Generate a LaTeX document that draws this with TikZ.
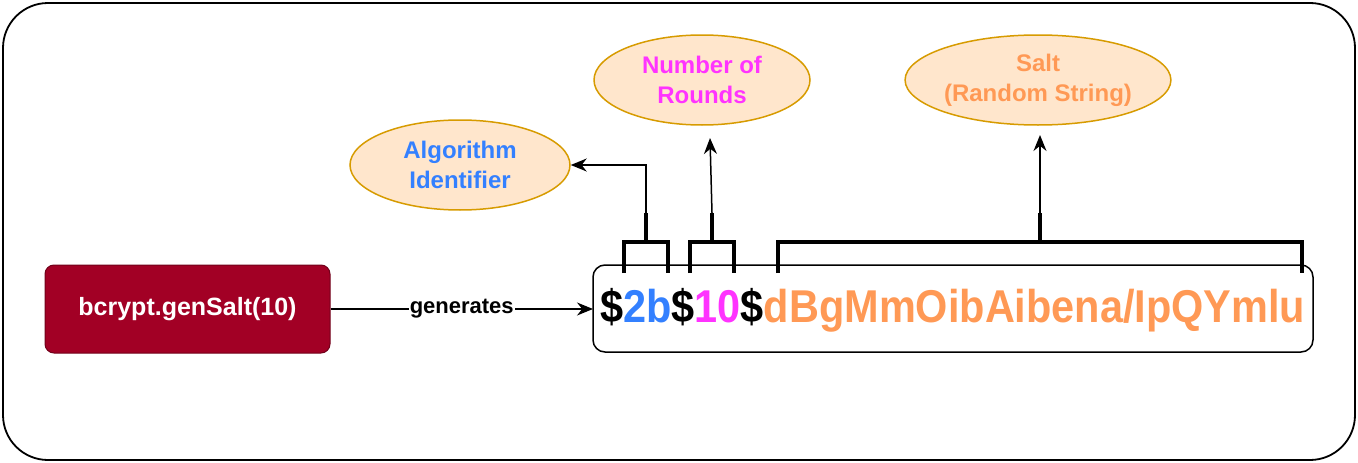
\documentclass[tikz,border=0pt]{standalone}
\usepackage{fontspec}
\setmainfont{Liberation Sans}
\usetikzlibrary{arrows.meta,shapes.geometric}
\definecolor{darkred}{HTML}{A20025}
\definecolor{elfill}{HTML}{FFE6CC}
\definecolor{eldraw}{HTML}{D79B00}
\definecolor{cblue}{HTML}{3380FF}
\definecolor{cmag}{HTML}{FF33FF}
\definecolor{corange}{HTML}{FF9955}
\tikzset{
 ell/.style={ellipse,inner sep=0pt,fill=elfill,draw=eldraw,line width=1.5pt,font=\bfseries\fontsize{24}{30}\selectfont,align=center},
 brk/.style={line width=3.5pt},
 arr/.style={line width=1.5pt,-{Stealth[length=16pt,width=13pt]}},
}
\begin{document}
\begin{tikzpicture}[x=1pt,y=-1pt]
\useasboundingbox (0,0) rectangle (1358,463);
\draw[line width=1.8pt,rounded corners=45pt] (3,3) rectangle (1355,460);
\node[fill=darkred,draw=darkred!70!black,line width=1pt,rounded corners=9pt,minimum width=285pt,minimum height=88pt,text=white,font=\bfseries\fontsize{25}{30}\selectfont] (gen) at (187.5,309) {bcrypt.genSalt(10)};
\draw[line width=1.5pt,rounded corners=12pt] (593,265) rectangle (1313,352);
\coordinate (hb) at (593,309);
\node[anchor=base west,inner sep=0pt,font=\bfseries\fontsize{46}{50}\selectfont] (hash) at (600,322) {\resizebox{705pt}{\height}{\$\textcolor{cblue}{2b}\$\textcolor{cmag}{10}\$\textcolor{corange}{dBgMmOibAibena/IpQYmlu}}};
\draw[arr] (gen.east) -- node[fill=white,inner sep=1pt,font=\bfseries\fontsize{22}{26}\selectfont]{generates} (hb);
\node[ell,minimum width=220pt,minimum height=90pt] (alg) at (460,165) {\textcolor{cblue}{Algorithm}\\\textcolor{cblue}{Identifier}};
\node[ell,minimum width=216pt,minimum height=90pt] (rnd) at (702,80) {\textcolor{cmag}{Number of}\\\textcolor{cmag}{Rounds}};
\node[ell,minimum width=236pt,minimum height=90pt] (salt) at (1038,80) {\textcolor{corange}{Salt}\\\textcolor{corange}{(Random String)}};
\draw[brk] (624,273) -- (624,242) -- (668,242) -- (668,273);
\draw[brk] (646,242) -- (646,213);
\draw[brk] (690,273) -- (690,242) -- (734,242) -- (734,273);
\draw[brk] (712,242) -- (712,213);
\draw[brk] (778,273) -- (778,242) -- (1302,242) -- (1302,273);
\draw[brk] (1040,242) -- (1040,213);
\coordinate (s1) at (646,213); \coordinate (s2) at (712,213); \coordinate (s3) at (1040,213);
\draw[arr] (s1) |- (alg.east);
\draw[arr] (s2) -- (710,138);
\draw[arr] (s3) -- (1040,135);
\end{tikzpicture}
\end{document}
